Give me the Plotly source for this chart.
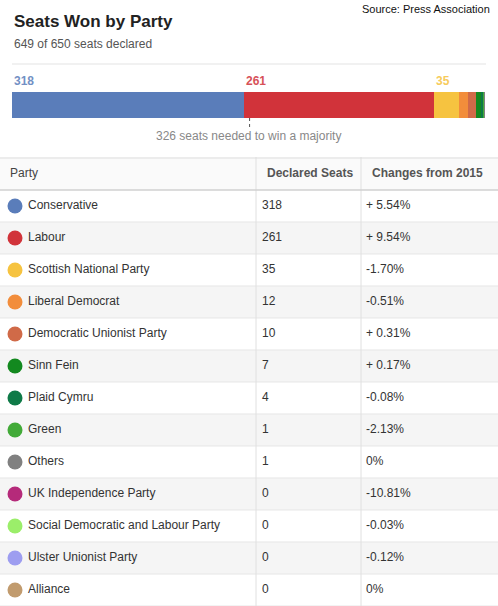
import plotly.graph_objects as go

# data
parties = ["Conservative", "Labour", "Scottish National Party", "Liberal Democrat",
           "Democratic Unionist Party", "Sinn Fein", "Plaid Cymru", "Green", "Others",
           "UK Independence Party", "Social Democratic and Labour Party",
           "Ulster Unionist Party", "Alliance"]
seats = [318, 261, 35, 12, 10, 7, 4, 1, 1, 0, 0, 0, 0]
changes = ["+ 5.54%", "+ 9.54%", "-1.70%", "-0.51%", "+ 0.31%", "+ 0.17%", "-0.08%",
           "-2.13%", "0%", "-10.81%", "-0.03%", "-0.12%", "0%"]
colors = ["#5a7dba", "#d1333a", "#f6c340", "#f28d3b", "#d06a48", "#13891f", "#0f7a48",
          "#42aa38", "#808080", "#b52a7a", "#9bee6a", "#9d9df0", "#c19b6e"]
declared, total, majority = 649, 650, 326

W, H = 498, 606
FONT = "Liberation Sans, Arial, sans-serif"

def px(x): return x / W
def py(y): return 1 - y / H

fig = go.Figure()

# seat bar
for i, (p, s, c) in enumerate(zip(parties, seats, colors)):
    if s == 0:
        continue
    fig.add_trace(go.Bar(x=[s], y=[0], orientation="h", marker=dict(color=c, line_width=0),
                         xaxis="x", yaxis="y", hoverinfo="name+x", name=p))
start = 0
for s, c in zip(seats[:3], colors[:3]):
    fig.add_annotation(x=start, y=0.5, xref="x", yref="y", text="<b>%d</b>" % s,
                       showarrow=False, xanchor="left", yanchor="bottom",
                       font=dict(color=c, size=12, family=FONT), yshift=2, opacity=0.85)
    start += s

# table: row centres in row units
rows = list(range(len(parties)))
fig.add_trace(go.Scatter(x=[15] * len(rows), y=rows, mode="markers", xaxis="x2", yaxis="y2",
                         marker=dict(size=15, color=colors), hoverinfo="skip"))
fig.add_trace(go.Scatter(x=[28] * len(rows), y=rows, mode="text", text=parties, xaxis="x2",
                         yaxis="y2", textposition="middle right", hoverinfo="skip",
                         textfont=dict(size=12, color="#333", family=FONT)))
fig.add_trace(go.Scatter(x=[262] * len(rows), y=rows, mode="text", text=[str(s) for s in seats],
                         xaxis="x2", yaxis="y2", textposition="middle right", hoverinfo="skip",
                         textfont=dict(size=12, color="#333", family=FONT)))
fig.add_trace(go.Scatter(x=[366] * len(rows), y=rows, mode="text", text=changes,
                         xaxis="x2", yaxis="y2", textposition="middle right", hoverinfo="skip",
                         textfont=dict(size=12, color="#333", family=FONT)))

shapes = []
for i in rows:
    if i % 2 == 1:
        shapes.append(dict(type="rect", xref="x2", yref="y2", x0=0, x1=W, y0=i - 0.5, y1=i + 0.5,
                           fillcolor="#f5f5f5", line_width=0, layer="below"))
    shapes.append(dict(type="line", xref="x2", yref="y2", x0=0, x1=W, y0=i + 0.5, y1=i + 0.5,
                       line=dict(color="#e6e6e6", width=1)))
for xv in (256, 361):
    shapes.append(dict(type="line", xref="x2", yref="y2", x0=xv, x1=xv, y0=-1.53, y1=12.5,
                       line=dict(color="#e0e0e0", width=1)))
shapes += [
    dict(type="rect", xref="x2", yref="y2", x0=0, x1=W, y0=-1.5, y1=-0.5, fillcolor="#fafafa",
         line_width=0, layer="below"),
    dict(type="line", xref="x2", yref="y2", x0=0, x1=W, y0=-1.5, y1=-1.5, line=dict(color="#dcdcdc", width=1)),
    dict(type="line", xref="x2", yref="y2", x0=0, x1=W, y0=-0.5, y1=-0.5, line=dict(color="#d0d0d0", width=1.5)),
    dict(type="line", xref="paper", yref="paper", x0=px(12), x1=px(486), y0=py(64), y1=py(64),
         line=dict(color="#e3e3e3", width=1)),
    dict(type="line", xref="x", yref="paper", x0=majority, x1=majority, y0=py(118), y1=py(128),
         line=dict(color="#555", width=1, dash="dot")),
]

anns = [
    dict(x=px(12), y=py(21), text="<b>Seats Won by Party</b>", font=dict(size=17, color="#222")),
    dict(x=px(12), y=py(44), text="%d of %d seats declared" % (declared, total), font=dict(size=12, color="#555")),
    dict(x=px(492), y=py(9), text="Source: Press Association", xanchor="right", font=dict(size=11, color="#111")),
    dict(x=px(248), y=py(136), text="%d seats needed to win a majority" % majority, xanchor="center",
         font=dict(size=12, color="#888")),
    dict(x=px(8), y=py(173), text="Party", font=dict(size=12, color="#444")),
    dict(x=px(265), y=py(173), text="<b>Declared Seats</b>", font=dict(size=12, color="#555")),
    dict(x=px(370), y=py(173), text="<b>Changes from 2015</b>", font=dict(size=12, color="#555")),
]
for a in anns:
    a.setdefault("xanchor", "left")
    a.update(xref="paper", yref="paper", yanchor="middle", showarrow=False)
    a["font"]["family"] = FONT
    fig.add_annotation(**a)

fig.update_layout(
    width=W, height=H, margin=dict(l=0, r=0, t=0, b=0), barmode="stack", showlegend=False,
    paper_bgcolor="white", plot_bgcolor="rgba(0,0,0,0)", bargap=0, shapes=shapes,
    xaxis=dict(domain=[px(12), px(485)], range=[0, declared], visible=False, fixedrange=True),
    yaxis=dict(domain=[py(118), py(92)], range=[-0.5, 0.5], visible=False, fixedrange=True),
    xaxis2=dict(domain=[0, 1], range=[0, W], visible=False, anchor="y2"),
    yaxis2=dict(domain=[0, py(157)], range=[12.5, -1.53], visible=False, anchor="x2"),
)

fig.write_html("out.html", config={"displayModeBar": False},
               post_script="document.body.style.margin='0';document.body.style.overflow='hidden';")
